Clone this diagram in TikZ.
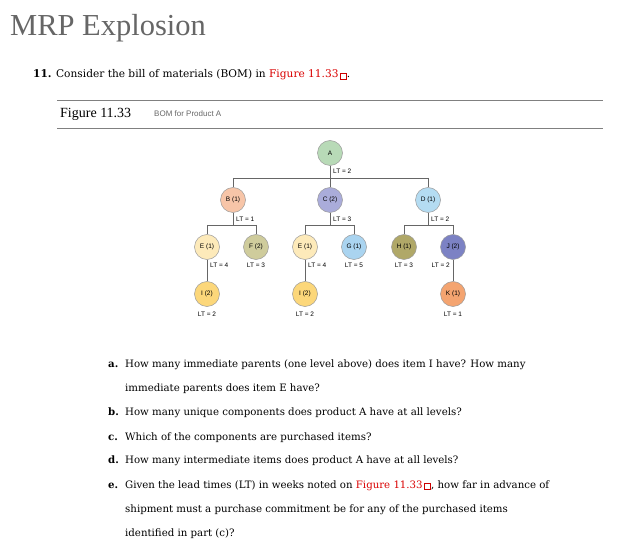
\documentclass[tikz,border=0pt]{standalone}
\usepackage{fontspec}
\setmainfont{DejaVu Serif}
\newfontfamily\arial{Liberation Sans}
\newfontfamily\tnrfont{Liberation Serif}
\begin{document}
\begin{tikzpicture}[x=1pt,y=-1pt,
 bn/.style={circle,draw=gray!80,line width=0.5pt,minimum size=25pt,inner sep=0pt,font=\arial\fontsize{6.5}{7}\selectfont},
 lt/.style={font=\arial\fontsize{6.5}{7}\selectfont,inner sep=1pt},
 ln/.style={draw=gray!80!black,line width=0.9pt},
 q/.style={anchor=base west,font=\fontsize{10.2}{14}\selectfont,inner sep=0pt},
 ql/.style={anchor=base west,font=\bfseries\fontsize{10.2}{14}\selectfont,inner sep=0pt},
 ico/.style={draw=red!80!black,line width=0.5pt}]
\useasboundingbox (0,0) rectangle (619,545);
\node[anchor=base west,text=gray!80!black,font=\tnrfont\fontsize{30.5}{32}\selectfont,inner sep=0pt] (title) at (10,36) {MRP Explosion};
\node[anchor=base west,font=\fontsize{10.6}{14}\selectfont,inner sep=0pt] (intro) at (33,78) {\textbf{11.} Consider the bill of materials (BOM) in \textcolor{red!85!black}{Figure 11.33}};
\draw[ico] ([xshift=1.5pt,yshift=-1pt]intro.base east) rectangle ++(6,-6);
\node[anchor=base west,font=\fontsize{10.6}{14}\selectfont,inner sep=0pt] (dot) at ([xshift=8pt]intro.base east) {.};
\draw[gray,line width=0.8pt] (57,100) -- (603,100);
\draw[gray,line width=0.8pt] (57,128) -- (603,128);
\node[anchor=base west,font=\tnrfont\fontsize{14}{14}\selectfont,inner sep=0pt] (fig) at (60,118) {Figure 11.33};
\node[anchor=base west,font=\arial\fontsize{8}{9}\selectfont,text=gray!80!black,inner sep=0pt] (cap) at (154,117) {BOM for Product A};
% nodes
\node[bn,fill={rgb,255:red,184;green,218;blue,183}] (A) at (330,153) {A};
\node[bn,fill={rgb,255:red,247;green,197;blue,168}] (B) at (233,200) {B (1)};
\node[bn,fill={rgb,255:red,170;green,172;blue,218}] (C) at (330,200) {C (2)};
\node[bn,fill={rgb,255:red,180;green,220;blue,242}] (D) at (428,200) {D (1)};
\node[bn,fill={rgb,255:red,253;green,234;blue,186}] (E1) at (207,247) {E (1)};
\node[bn,fill={rgb,255:red,207;green,204;blue,156}] (F) at (256,247) {F (2)};
\node[bn,fill={rgb,255:red,253;green,234;blue,186}] (E2) at (305,247) {E (1)};
\node[bn,fill={rgb,255:red,170;green,212;blue,240}] (G) at (354,247) {G (1)};
\node[bn,fill={rgb,255:red,176;green,168;blue,104}] (H) at (404,247) {H (1)};
\node[bn,fill={rgb,255:red,124;green,130;blue,196}] (J) at (453,247) {J (2)};
\node[bn,fill={rgb,255:red,252;green,215;blue,122}] (I1) at (207,294) {I (2)};
\node[bn,fill={rgb,255:red,252;green,215;blue,122}] (I2) at (305,294) {I (2)};
\node[bn,fill={rgb,255:red,244;green,164;blue,112}] (K) at (453,294) {K (1)};
% connectors
\draw[ln] (A) -- (330,178) coordinate (a1);
\draw[ln] (B |- a1) -- (D |- a1);
\draw[ln] (B |- a1) -- (B); \draw[ln] (a1) -- (C); \draw[ln] (D |- a1) -- (D);
\draw[ln] (B) -- (233,225) coordinate (b1); \draw[ln] (E1 |- b1) -- (F |- b1);
\draw[ln] (E1 |- b1) -- (E1); \draw[ln] (F |- b1) -- (F);
\draw[ln] (C) -- (330,225) coordinate (c1); \draw[ln] (E2 |- c1) -- (G |- c1);
\draw[ln] (E2 |- c1) -- (E2); \draw[ln] (G |- c1) -- (G);
\draw[ln] (D) -- (428,225) coordinate (d1); \draw[ln] (H |- d1) -- (J |- d1);
\draw[ln] (H |- d1) -- (H); \draw[ln] (J |- d1) -- (J);
\draw[ln] (E1) -- (I1); \draw[ln] (E2) -- (I2); \draw[ln] (J) -- (K);
% LT labels
\node[lt,anchor=west] (lA) at (332,171) {LT = 2};
\node[lt,anchor=west] (lB) at (235,219) {LT = 1};
\node[lt,anchor=west] (lC) at (332,219) {LT = 3};
\node[lt,anchor=west] (lD) at (430,219) {LT = 2};
\node[lt,anchor=west] (lE1) at (209,265) {LT = 4};
\node[lt] (lF) at (256,265) {LT = 3};
\node[lt,anchor=west] (lE2) at (307,265) {LT = 4};
\node[lt] (lG) at (354,265) {LT = 5};
\node[lt] (lH) at (404,265) {LT = 3};
\node[lt,anchor=east] (lJ) at (451,265) {LT = 2};
\node[lt] (lI1) at (207,314) {LT = 2};
\node[lt] (lI2) at (305,314) {LT = 2};
\node[lt] (lK) at (453,314) {LT = 1};
% questions
\node[ql] (qa) at (108,368) {a.}; \node[q] (ta) at (125,368) {How many immediate parents (one level above) does item I have? How many};
\node[q] (ta2) at (125,392) {immediate parents does item E have?};
\node[ql] (qb) at (108,416) {b.}; \node[q] (tb) at (125,416) {How many unique components does product A have at all levels?};
\node[ql] (qc) at (108,440) {c.}; \node[q] (tc) at (125,440) {Which of the components are purchased items?};
\node[ql] (qd) at (108,464) {d.}; \node[q] (td) at (125,464) {How many intermediate items does product A have at all levels?};
\node[ql] (qe) at (108,488) {e.}; \node[q] (te) at (125,488) {Given the lead times (LT) in weeks noted on \textcolor{red!85!black}{Figure 11.33}};
\draw[ico] ([xshift=1.5pt,yshift=-1pt]te.base east) rectangle ++(6,-6);
\node[q] (te1) at ([xshift=8pt]te.base east) {, how far in advance of};
\node[q] (te2) at (125,512) {shipment must a purchase commitment be for any of the purchased items};
\node[q] (te3) at (125,536) {identified in part (c)?};
\end{tikzpicture}
\end{document}
